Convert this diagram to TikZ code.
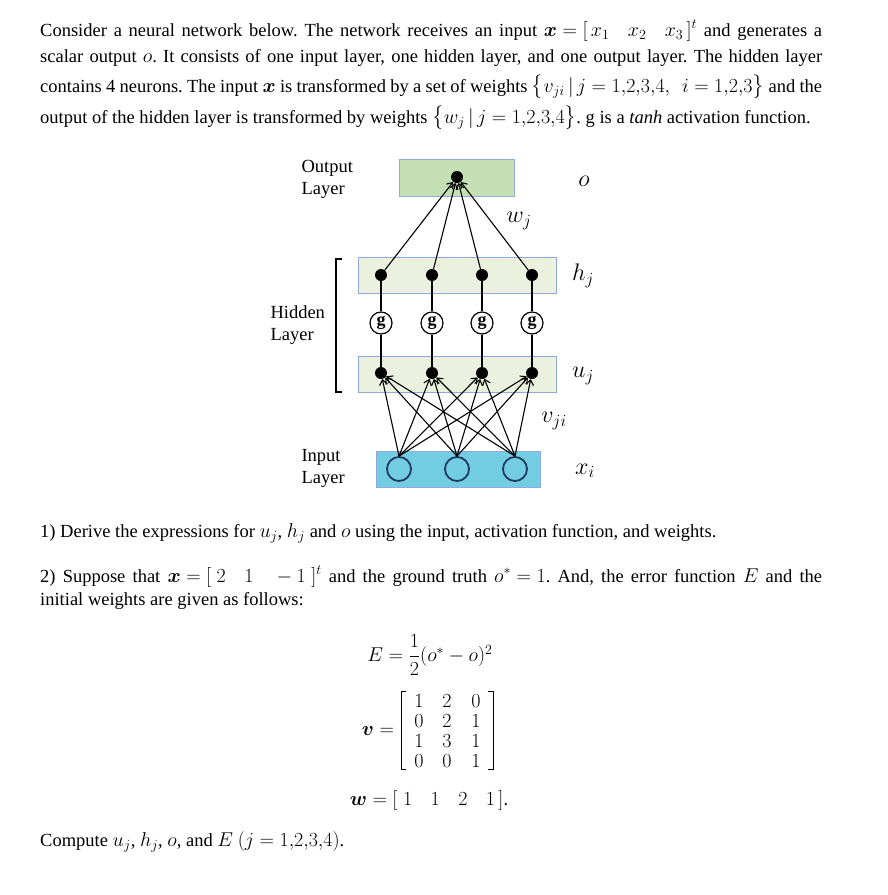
\RequirePackage{fix-cm}
\documentclass[tikz,border=0pt]{standalone}
\usepackage{amsmath,amssymb}
\usepackage{fontspec}
\setmainfont{Liberation Serif}
\usetikzlibrary{arrows.meta,positioning}
\DeclareMathSizes{18.5}{20}{14}{10}
\DeclareMathSizes{22}{24}{17}{12}
\definecolor{vertsortie}{HTML}{C5E0B4}
\definecolor{vertpale}{HTML}{EBF1DE}
\definecolor{bleuentree}{HTML}{72CDE2}
\definecolor{bordbleu}{HTML}{8FAADC}
\definecolor{marine}{HTML}{1F3864}
\newcommand{\ligne}[1]{\hbox to 782pt{\thickmuskip=5mu\medmuskip=4mu\relax #1}}
\newcommand{\accg}{\smash{\big\{}}
\newcommand{\accd}{\smash{\big\}}}

\begin{document}
\frenchspacing
\begin{tikzpicture}[x=1pt,y=-1pt,font=\fontsize{18.5}{22}\selectfont\frenchspacing,
    texte/.style={anchor=base west, inner sep=0pt},
    layerbox/.style={draw=bordbleu, line width=0.8pt},
    dot/.style={circle, fill=black, minimum size=12pt, inner sep=0pt},
    gnode/.style={circle, draw, fill=white, line width=1.2pt, minimum size=22pt, inner sep=0pt, font=\fontsize{18}{18}\selectfont\bfseries},
    innode/.style={circle, draw=marine, line width=1.8pt, minimum size=24pt, inner sep=0pt},
    fleche/.style={line width=1.1pt, -{Straight Barb[length=5pt,width=8pt]}},
    lien/.style={line width=1.2pt},
    var/.style={font=\fontsize{22}{22}\selectfont}]
        \useasboundingbox (0,0) rectangle (887,895);

        % Enonce
        \node[texte] (l1) at (40,36) {\ligne{Consider a neural network below. The network receives an input $\boldsymbol{x}=[\,x_1\quad x_2\quad x_3\,]^t$ and generates a}};
        \node[texte] (l2) at (40,62) {\ligne{scalar output $o$. It consists of one input layer, one hidden layer, and one output layer. The hidden layer}};
        \node[texte] (l3) at (40,92) {\ligne{contains 4 neurons. The input $\boldsymbol{x}$ is transformed by a set of weights $\accg v_{ji}\,|\,j=1{,}2{,}3{,}4,\ \ i=1{,}2{,}3\accd$ and the}};
        \node[texte] (l4) at (40,123) {output of the hidden layer is transformed by weights $\accg w_j\,|\,j=1{,}2{,}3{,}4\accd$. g is a \textit{tanh} activation function.};

        % Couches
        \draw[layerbox, fill=vertsortie] (399,159) rectangle (514,196);
        \draw[layerbox, fill=vertpale] (358,257) rectangle (556,293);
        \draw[layerbox, fill=vertpale] (358,356) rectangle (556,392);
        \draw[layerbox, fill=bleuentree] (376,451) rectangle (540,487);

        % Neurones
        \node[dot] (o) at (457,177) {};
        \foreach \x [count=\j] in {381,432,482,532} {
            \node[dot] (h\j) at (\x,275) {};
            \node[gnode] (g\j) at (\x,323) {g};
            \node[dot] (u\j) at (\x,373) {};
        }
        \foreach \x [count=\i] in {399,457,515}
            \node[innode] (x\i) at (\x,469) {};

        % Connexions
        \foreach \j in {1,...,4} {
            \draw[fleche] (h\j) -- (o);
            \draw[lien] (u\j) -- (g\j) -- (h\j);
            \foreach \i in {1,2,3}
                \draw[fleche] (x\i.north) -- (u\j);
        }

        % Crochet de la couche cachee
        \draw[lien] (342,259) -- (336,259) -- (336,392) -- (342,392);

        % Noms des couches
        \node[anchor=west, align=left] (nout) at (298,179) {Output\\Layer};
        \node[anchor=west, align=left] (nhid) at (267,325) {Hidden\\Layer};
        \node[anchor=west, align=left] (ninp) at (298,468) {Input\\Layer};

        % Variables
        \node[var] (lo) at (584,181) {$o$};
        \node[var] (lw) at (519,221) {$w_j$};
        \node[var] (lh) at (583,276) {$h_j$};
        \node[var] (lu) at (583,376) {$u_j$};
        \node[var] (lv) at (554,421) {$v_{ji}$};
        \node[var] (lx) at (585,471) {$x_i$};

        % Questions
        \node[texte] (q1) at (40,537) {1) Derive the expressions for $u_j$, $h_j$ and $o$ using the input, activation function, and weights.};
        \node[texte] (q2) at (40,582) {\ligne{2) Suppose that $\boldsymbol{x}=[\;2\quad 1\quad -1\;]^t$ and the ground truth $o^*=1$. And, the error function $E$ and the}};
        \node[texte] (q2b) at (40,605) {initial weights are given as follows:};

        \node (eqE) at (430,655) {$E=\dfrac{1}{2}(o^*-o)^2$};

        % Matrice v
        \node (veq) at (378,731) {$\boldsymbol{v}=$};
        \foreach \a/\b/\c [count=\r] in {1/2/0,0/2/1,1/3/1,0/0/1} {
            \node (v\r a) at (419,681+20*\r) {$\a$};
            \node (v\r b) at (447,681+20*\r) {$\b$};
            \node (v\r c) at (476,681+20*\r) {$\c$};
        }
        \draw[line width=1pt] (406,691) -- (401,691) -- (401,769) -- (406,769);
        \draw[line width=1pt] (488,691) -- (493,691) -- (493,769) -- (488,769);

        \node (eqw) at (429,800) {$\boldsymbol{w}=[\;1\quad 1\quad 2\quad 1\,]$.};

        \node[texte] (q3) at (40,846) {Compute $u_j$, $h_j$, $o$, and $E$ $(j=1{,}2{,}3{,}4)$.};
    \end{tikzpicture}
\end{document}
